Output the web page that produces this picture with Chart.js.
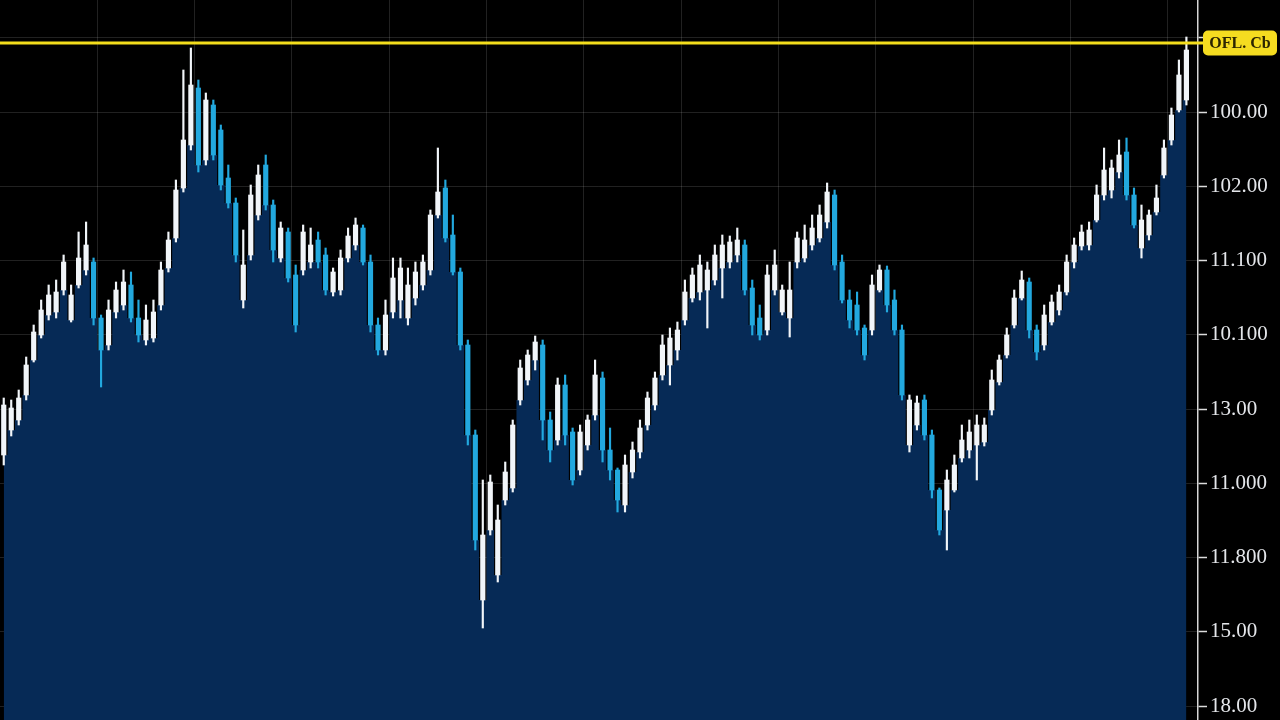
<!DOCTYPE html>
<html>
<head>
<meta charset="utf-8">
<script src="https://cdn.jsdelivr.net/npm/chart.js@4.4.1/dist/chart.umd.min.js"></script>
<style>
    html, body { margin: 0; padding: 0; background: #000; overflow: hidden; }
</style>
</head>
<body>
<canvas id="priceChart" width="1280" height="720"></canvas>
<script>
// candle data (one candle per session)
const opens = [
    26.5, 29.0, 30.0, 32.5, 36.0, 38.5, 40.5, 40.8, 43.0, 40.0,
    43.5, 45.0, 45.8, 40.2, 37.5, 40.8, 41.5, 43.5, 40.2, 38.0,
    38.2, 41.5, 45.2, 48.2, 53.2, 57.5, 63.2, 56.0, 61.5, 59.0,
    54.2, 51.7, 42.0, 46.5, 50.5, 55.5, 51.5, 46.2, 48.8, 44.5,
    45.0, 45.8, 48.0, 46.5, 42.8, 43.0, 46.2, 47.5, 49.2, 45.8,
    39.5, 37.0, 40.8, 42.0, 40.2, 42.2, 43.5, 45.0, 50.5, 53.2,
    48.5, 44.8, 37.5, 28.5, 12.0, 19.0, 14.5, 22.0, 23.2, 32.0,
    34.0, 36.0, 37.5, 30.0, 28.0, 33.5, 28.8, 25.0, 27.5, 30.5,
    34.2, 27.0, 25.0, 21.5, 24.8, 26.8, 29.5, 31.5, 34.5, 35.5,
    37.0, 40.0, 42.2, 42.8, 43.0, 44.0, 45.2, 45.8, 46.5, 47.5,
    43.2, 40.2, 39.0, 43.0, 40.8, 40.2, 45.8, 46.2, 47.5, 48.2,
    49.8, 52.5, 45.8, 42.0, 41.5, 39.2, 39.0, 43.0, 45.0, 42.0,
    39.0, 27.5, 29.5, 32.0, 28.5, 23.0, 21.0, 23.0, 26.2, 27.0,
    27.5, 27.8, 31.0, 33.8, 36.5, 39.5, 42.2, 43.8, 39.0, 37.5,
    39.8, 41.0, 42.8, 45.8, 47.4, 47.5, 50.0, 52.5, 53.0, 54.8,
    56.8, 52.5, 47.2, 48.5, 50.8, 54.5, 58.0, 61.0, 62.0
];
const closes = [
    31.5, 31.2, 32.2, 35.5, 38.8, 41.0, 42.5, 42.8, 45.8, 42.5,
    46.2, 47.5, 40.2, 37.0, 41.0, 43.0, 43.8, 40.2, 38.5, 40.0,
    40.8, 45.0, 48.0, 53.0, 58.0, 63.5, 55.5, 62.0, 56.5, 53.5,
    51.7, 46.5, 45.5, 52.5, 54.5, 51.5, 47.0, 49.2, 44.2, 39.5,
    48.8, 47.5, 45.8, 43.0, 44.8, 46.2, 48.4, 49.5, 45.8, 39.5,
    37.0, 40.5, 44.2, 45.2, 43.5, 44.8, 45.8, 50.5, 52.8, 48.2,
    44.8, 37.5, 28.5, 18.0, 18.5, 23.8, 20.0, 24.8, 29.5, 35.2,
    36.5, 37.8, 30.0, 27.0, 33.5, 28.5, 24.0, 28.8, 30.0, 34.5,
    27.0, 25.0, 22.0, 25.5, 27.0, 29.2, 32.2, 34.2, 37.5, 38.2,
    39.0, 42.8, 44.5, 45.5, 45.0, 46.5, 47.5, 47.8, 48.0, 43.0,
    39.5, 38.5, 44.5, 45.5, 43.0, 43.0, 48.2, 48.0, 49.2, 50.5,
    52.8, 45.5, 42.0, 40.0, 39.0, 36.5, 43.5, 45.0, 41.5, 39.0,
    32.5, 32.0, 31.7, 28.5, 23.0, 19.0, 24.0, 25.5, 28.0, 28.8,
    29.5, 29.5, 34.0, 36.0, 38.5, 42.2, 44.0, 39.0, 36.8, 40.5,
    41.8, 42.8, 45.8, 47.5, 48.8, 49.0, 52.5, 55.0, 55.2, 56.5,
    52.5, 49.5, 50.0, 50.5, 52.2, 57.2, 60.5, 64.5, 67.0
];
const highs = [
    32.2, 32.0, 33.0, 36.3, 39.5, 42.0, 43.5, 44.0, 46.5, 43.5,
    48.8, 49.8, 46.2, 40.5, 42.0, 43.8, 45.0, 44.8, 42.0, 41.5,
    42.0, 45.8, 48.8, 54.0, 65.0, 67.2, 64.0, 62.7, 62.0, 59.5,
    55.5, 52.2, 49.0, 53.5, 55.5, 56.5, 52.0, 49.8, 49.2, 45.5,
    49.5, 49.2, 48.8, 47.2, 45.2, 47.0, 49.2, 50.2, 49.5, 46.5,
    40.2, 42.0, 46.2, 46.2, 45.2, 45.8, 46.5, 51.0, 57.2, 54.0,
    50.5, 45.2, 38.0, 29.0, 24.0, 24.5, 21.5, 25.8, 30.0, 36.0,
    37.0, 38.4, 38.0, 30.8, 34.2, 34.5, 29.2, 29.5, 30.5, 36.0,
    34.8, 29.2, 25.2, 26.5, 27.8, 30.0, 32.8, 34.8, 38.5, 39.2,
    39.8, 44.0, 45.2, 46.5, 45.8, 47.5, 48.5, 48.4, 49.2, 48.0,
    44.0, 41.5, 45.5, 47.0, 43.5, 45.8, 48.8, 49.5, 50.5, 51.5,
    53.7, 53.0, 46.5, 43.0, 42.8, 39.5, 44.5, 45.5, 45.4, 43.0,
    39.5, 32.5, 32.4, 32.5, 29.0, 23.2, 25.0, 26.5, 29.5, 30.0,
    30.5, 30.2, 35.0, 36.5, 39.2, 43.0, 44.9, 44.2, 39.5, 41.5,
    42.5, 43.5, 46.5, 48.2, 49.5, 49.8, 53.5, 57.2, 56.0, 58.0,
    58.2, 53.2, 51.5, 51.0, 53.5, 58.0, 61.2, 66.0, 68.3
];
const lows = [
    25.5, 28.4, 29.5, 32.0, 35.8, 38.2, 40.0, 40.2, 42.5, 39.8,
    43.2, 44.5, 39.5, 33.3, 37.0, 40.2, 41.0, 39.8, 37.8, 37.5,
    37.8, 41.0, 44.8, 47.8, 52.8, 57.0, 54.8, 55.5, 56.0, 53.0,
    51.2, 45.8, 41.2, 46.0, 50.0, 51.0, 45.8, 45.8, 43.8, 38.8,
    44.5, 45.2, 45.2, 42.5, 42.4, 42.5, 45.8, 47.0, 45.5, 38.8,
    36.5, 36.5, 40.2, 40.2, 39.5, 41.5, 43.0, 44.5, 50.2, 47.8,
    44.5, 37.0, 27.5, 17.0, 9.2, 18.5, 13.8, 21.5, 22.8, 31.5,
    33.5, 35.0, 28.0, 25.8, 27.5, 27.5, 23.5, 24.5, 27.0, 30.0,
    25.8, 24.0, 20.8, 20.8, 24.2, 26.2, 29.0, 31.0, 34.0, 33.5,
    36.0, 39.5, 41.8, 42.0, 39.2, 43.5, 42.2, 45.2, 45.8, 42.5,
    38.5, 38.0, 38.5, 42.5, 40.5, 38.3, 45.2, 45.8, 47.0, 47.8,
    49.2, 45.0, 41.7, 39.2, 38.5, 36.0, 38.5, 42.8, 40.8, 38.5,
    32.0, 26.8, 29.0, 28.0, 22.2, 18.5, 17.0, 22.8, 25.8, 26.2,
    24.0, 27.4, 30.5, 33.5, 36.2, 39.2, 42.0, 38.2, 36.0, 37.0,
    39.5, 40.5, 42.5, 45.2, 47.0, 47.0, 49.8, 52.0, 52.2, 54.2,
    52.0, 49.2, 46.2, 48.0, 50.5, 54.2, 57.5, 60.8, 61.5
];

// right axis
const tickValues = [1.4, 8.825, 16.25, 23.675, 31.1, 38.525, 45.95, 53.375, 60.8, 68.225];
const tickLabels = ['18.00', '15.00', '11.800', '11.000', '13.00', '10.100', '11.100', '102.00', '100.00', ''];
const resistanceLevel = 67.7;
const resistanceLabel = 'OFL. Cb';
const gridStep = 13;

const upColor = '#f1f5f9';
const downColor = '#22a8de';
const gridColor = 'rgba(255, 255, 255, 0.13)';

const candleX = opens.map((o, i) => i + 0.5);
const candleColors = opens.map((o, i) => closes[i] >= o ? upColor : downColor);

const resistancePlugin = {
    id: 'resistance',
    afterDatasetsDraw(chart) {
        const { ctx, chartArea, scales } = chart;
        const py = scales.y.getPixelForValue(resistanceLevel);
        ctx.save();
        ctx.strokeStyle = '#f3dd1c';
        ctx.lineWidth = 3;
        ctx.beginPath();
        ctx.moveTo(chartArea.left, py);
        ctx.lineTo(chartArea.right + 8, py);
        ctx.stroke();
        // price tag
        const bx = chartArea.right + 5, bw = 74, bh = 25;
        ctx.fillStyle = '#f5dc20';
        ctx.beginPath();
        ctx.roundRect(bx, py - bh / 2, bw, bh, 5);
        ctx.fill();
        ctx.fillStyle = '#2b2500';
        ctx.font = 'bold 16px "Liberation Serif"';
        ctx.textAlign = 'center';
        ctx.textBaseline = 'middle';
        ctx.fillText(resistanceLabel, bx + bw / 2, py + 1);
        ctx.restore();
    }
};

const ctx = document.getElementById('priceChart').getContext('2d');
const priceChart = new Chart(ctx, {
    type: 'bar',
    data: {
        datasets: [{
            type: 'bar',
            label: 'Body',
            data: candleX.map((x, i) => ({ x: x, y: [opens[i], closes[i]] })),
            backgroundColor: candleColors,
            barThickness: 4.5,
            grouped: false,
            order: 1
        },
        {
            type: 'bar',
            label: 'Wick',
            data: candleX.map((x, i) => ({ x: x, y: [lows[i], highs[i]] })),
            backgroundColor: candleColors,
            barThickness: 1.5,
            grouped: false,
            order: 2
        },
        {
            type: 'line',
            label: 'Area',
            data: candleX.map((x, i) => ({ x: x, y: Math.min(opens[i], closes[i]) })),
            borderWidth: 0,
            pointRadius: 0,
            stepped: 'middle',
            fill: 'origin',
            backgroundColor: '#062a56',
            order: 3
        }]
    },
    options: {
        responsive: false,
        animation: false,
        layout: { padding: 0 },
        plugins: {
            legend: { display: false },
            tooltip: { enabled: false }
        },
        scales: {
            x: {
                type: 'linear',
                min: 0,
                max: 160.05,
                offset: false,
                ticks: { display: false },
                grid: { color: gridColor, drawTicks: false, offset: false },
                border: { display: false },
                afterBuildTicks: (scale) => {
                    const t = [];
                    for (let v = gridStep; v < scale.max; v += gridStep) t.push({ value: v });
                    scale.ticks = t;
                },
                afterFit: (scale) => {
                    scale.height = 0;
                    scale.paddingLeft = 0;
                    scale.paddingRight = 0;
                }
            },
            y: {
                position: 'right',
                min: 0,
                max: 72,
                afterBuildTicks: (scale) => {
                    scale.ticks = tickValues.map(v => ({ value: v }));
                },
                afterFit: (scale) => {
                    scale.width = 82;
                    scale.paddingTop = 0;
                    scale.paddingBottom = 0;
                },
                ticks: {
                    color: '#e4e6ea',
                    font: { family: 'Liberation Serif', size: 21 },
                    padding: 3,
                    callback: (value, index) => tickLabels[index]
                },
                grid: { color: gridColor, tickColor: '#dcdcdc', tickLength: 9, tickWidth: 1.5 },
                border: { color: '#d6d6d6', width: 1.5 }
            }
        }
    },
    plugins: [resistancePlugin]
});
</script>
</body>
</html>
